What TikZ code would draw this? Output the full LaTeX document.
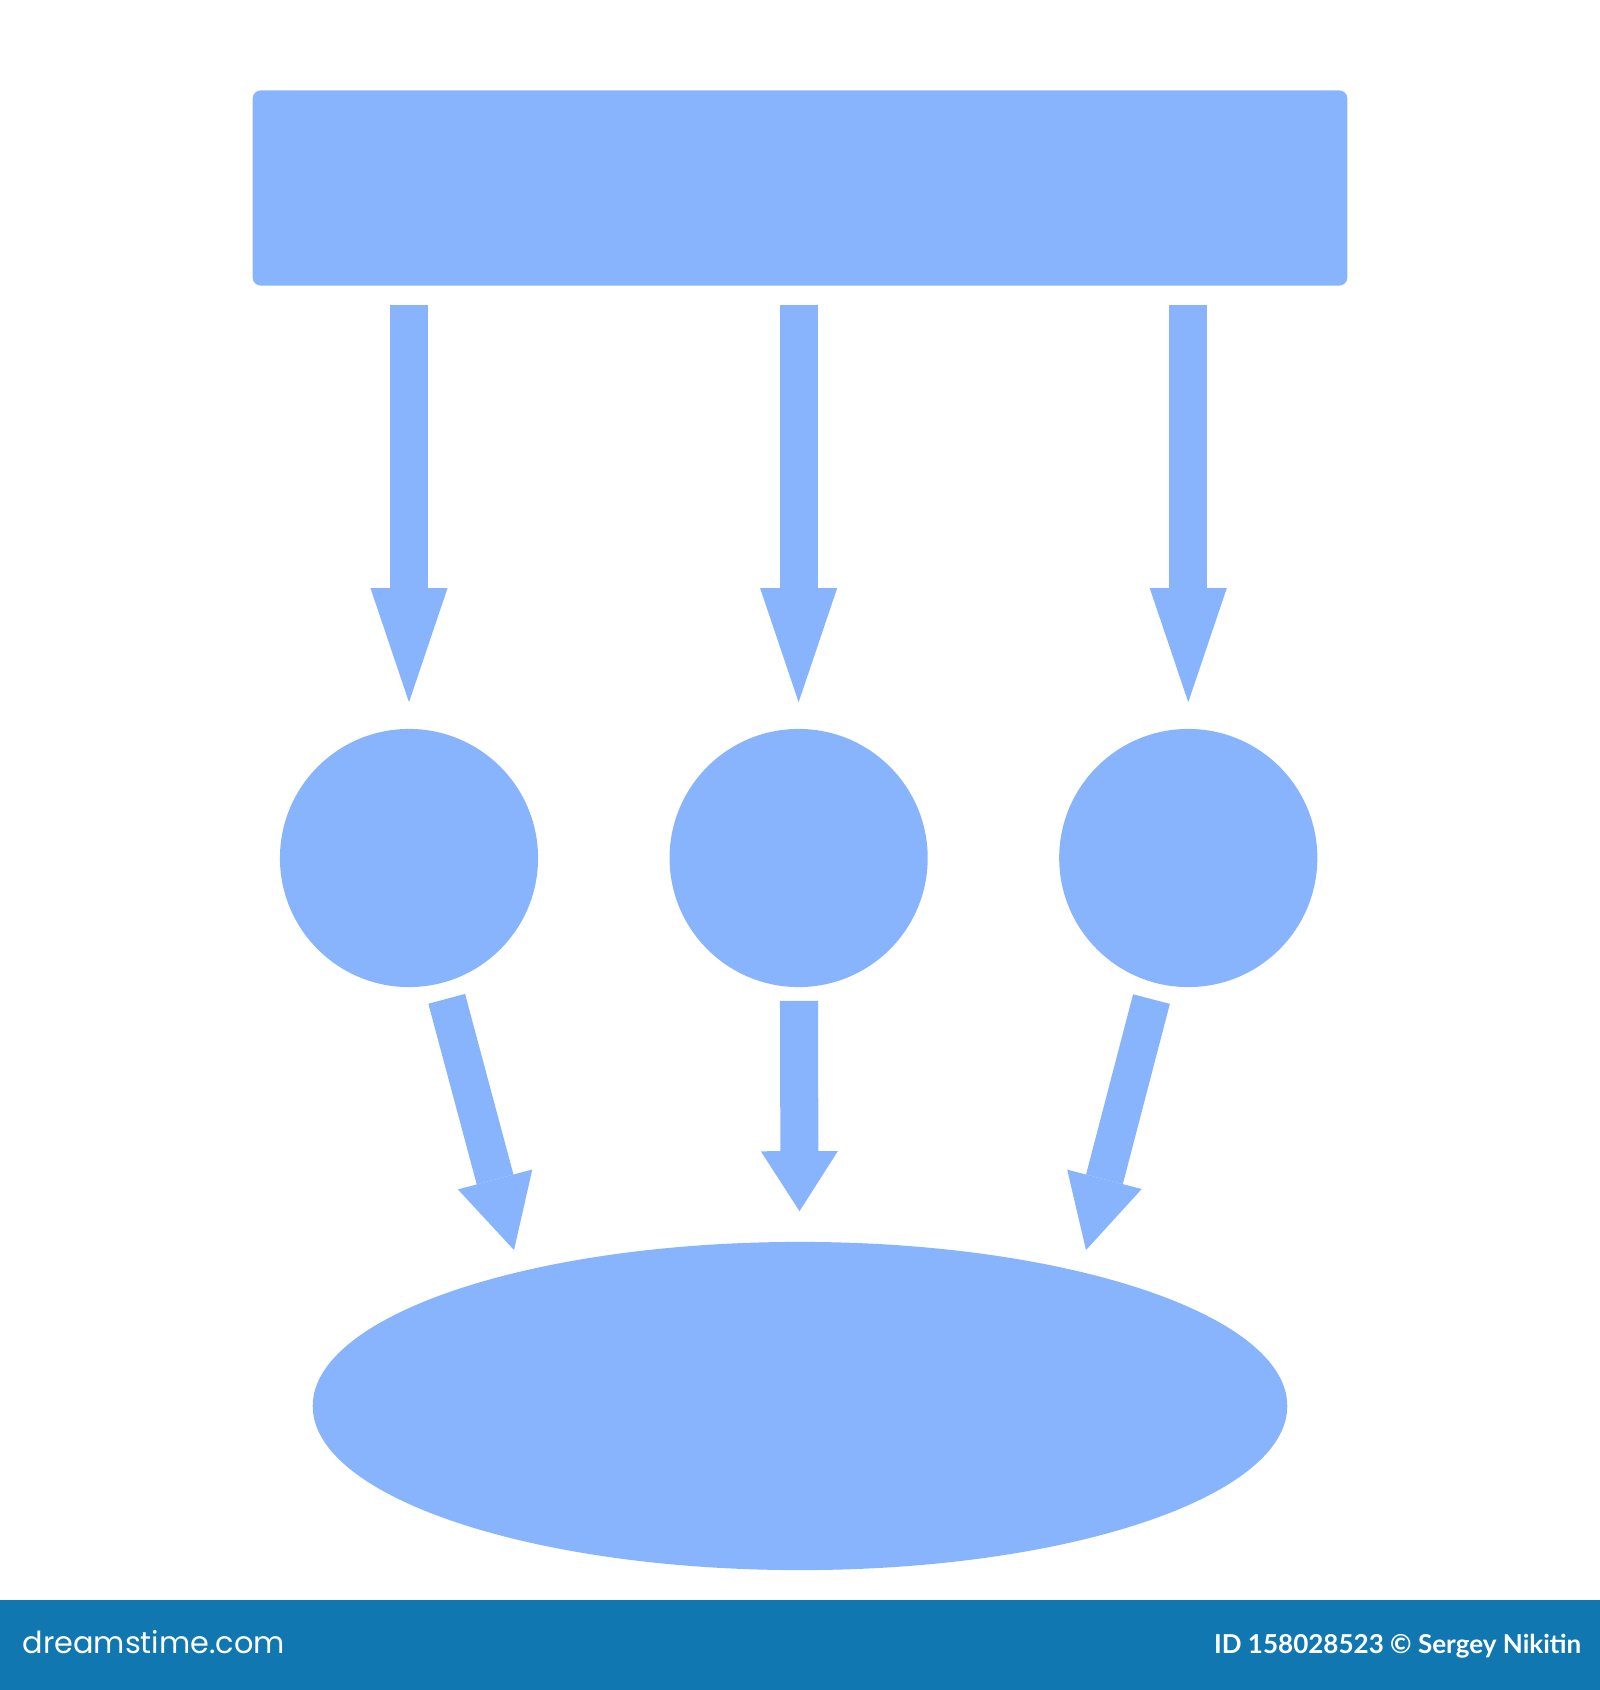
\documentclass[tikz,border=0pt]{standalone}
\usepackage{fontspec}
\usepackage{graphicx}
\newfontfamily\logofont{Poppins}
\newfontfamily\idfont{Lato}
\usepackage{tikz}
\usetikzlibrary{positioning,arrows.meta,shapes.geometric}
\definecolor{boxblue}{HTML}{87B4FC}
\definecolor{footblue}{HTML}{1077B0}

\begin{document}
\begin{tikzpicture}[x=0.01cm,y=-0.01cm,node distance=1.30cm,
  source/.style={rectangle,rounded corners=0.08cm,fill=boxblue,inner sep=0pt,
    minimum width=10.94cm,minimum height=1.95cm},
  hub/.style={circle,fill=boxblue,inner sep=0pt,minimum size=2.58cm},
  pool/.style={ellipse,fill=boxblue,inner sep=0pt,
    minimum width=9.74cm,minimum height=3.28cm},
  flow/.style={draw=boxblue,line width=0.38cm,
    -{Triangle[width=0.77cm,length=1.14cm,line width=0pt]}},
  shortflow/.style={flow,
    -{Triangle[width=0.77cm,length=#1,line width=0pt]}},
  banner/.style={rectangle,fill=footblue,inner sep=0pt,
    minimum width=16cm,minimum height=0.9cm}]
  \useasboundingbox (0,0) rectangle (1600,1690);
  % The wide box on top, the source of the three flows.
  \node[source] (top) at (800,188) {};
  % Three circles in a row, spaced by the node distance.
  \node[hub] (c1) at (409,858) {};
  \node[hub] (c2) [right = of c1] {};
  \node[hub] (c3) [right = of c2] {};
  % The flat ellipse that collects everything.
  \node[pool] (base) at (800,1406) {};
  % Free ends of the two slanted arrows.
  \coordinate (tip1) at (514,1250);
  \coordinate (tip3) at (1086,1250);
  % Box to circles.
  \foreach \c in {c1,c2,c3}
    \draw[flow,shorten <=0.19cm,shorten >=0.26cm] (\c |- top.south) -- (\c);
  % Circles to the ellipse.
  \draw[shortflow=0.73cm,shorten <=0.16cm] (c1) -- (tip1);
  \draw[shortflow=0.60cm,shorten <=0.13cm,shorten >=0.30cm] (c2) -- (base);
  \draw[shortflow=0.73cm,shorten <=0.16cm] (c3) -- (tip3);
  % Footer strip.
  \node[banner] (foot) at (800,1645) {};
  \node[anchor=base west,inner sep=0pt,text=white] (logo) at (22,1653)
    {\resizebox{2.62cm}{!}{\logofont dreamstime.com}};
  \node[anchor=base east,inner sep=0pt,text=white] (credit) at (1582,1653)
    {\resizebox{3.67cm}{!}{\idfont\bfseries ID 158028523 © Sergey Nikitin}};
\end{tikzpicture}
\end{document}
